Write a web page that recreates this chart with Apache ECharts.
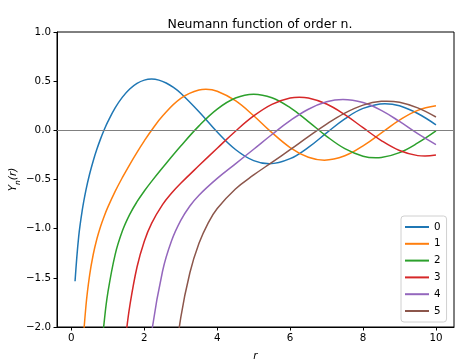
<!DOCTYPE html>
<html><head><meta charset="utf-8">
<script src="https://cdn.jsdelivr.net/npm/echarts@6/dist/echarts.min.js"></script>
<style>html,body{margin:0;padding:0;background:#fff}#c{width:474px;height:364px}</style>
</head><body><div id="c"></div>
<script>
const title = 'Neumann function of order n.';
const seriesNames = ['0','1','2','3','4','5'];
const xTicks = [0,2,4,6,8,10];

const x0 = [0.1,0.2,0.3,0.4,0.5,0.6,0.7,0.8,0.9,1.0,1.2,1.4,1.6,1.8,2.0,2.2,2.4,2.6,2.8,3.0,3.5,4.0,4.5,5.0,5.43,6.0,6.5,7.0,7.5,8.0,8.6,9.0,9.5,10.0];
const y0 = [-1.5342,-1.0811,-0.8073,-0.6060,-0.4445,-0.3085,-0.1907,-0.0868,0.0056,0.0883,0.2281,0.3379,0.4204,0.4774,0.5104,0.5208,0.5104,0.4813,0.4359,0.3769,
            0.1890,-0.0169,-0.1947,-0.3085,-0.3403,-0.2882,-0.1732,-0.0259,0.1173,0.2235,0.2715,0.2499,0.1712,0.0557];

const x1 = [0.2,0.3,0.4,0.5,0.6,0.7,0.8,0.9,1.0,1.2,1.4,1.6,1.8,2.0,2.2,2.5,3.0,3.5,3.69,4.0,4.5,5.0,5.43,6.0,6.5,6.94,7.5,8.0,8.6,9.0,9.5,10.0];
const y1 = [-3.3238,-2.2931,-1.7809,-1.4715,-1.2604,-1.1032,-0.9781,-0.8731,-0.7812,-0.6211,-0.4791,-0.3476,-0.2237,-0.1070,0.0015,0.1459,0.3247,
            0.4102,0.4168,0.3979,0.3010,0.1479,0.0000,-0.1750,-0.2741,-0.3033,-0.2591,-0.1581,0.0000,0.1043,0.2032,0.2490];

const x2 = [0.7,0.8,0.9,1.0,1.2,1.4,1.6,1.8,2.0,2.2,2.5,3.0,3.5,4.0,4.5,5.0,5.5,6.0,6.5,7.0,7.5,8.0,8.35,8.5,9.0,9.5,10.0];
const y2 = [-2.961,-2.359,-1.946,-1.6507,-1.2633,-1.0223,-0.8549,-0.7260,-0.6174,-0.5194,-0.3813,-0.1604,
            0.0454,0.2159,0.3285,0.3678,0.3308,0.2299,0.0889,-0.0605,-0.1864,-0.2630,-0.2793,-0.2764,-0.2267,-0.1284,-0.0059];

const x3 = [1.2,1.4,1.5,1.6,1.8,2.0,2.2,2.5,2.75,3.0,3.5,4.0,4.5,5.0,5.5,6.0,6.25,6.5,7.0,7.5,8.0,8.5,9.0,9.5,9.7,10.0];
const y3 = [-3.5899,-2.4418,-2.0733,-1.7897,-1.3896,-1.1278,-0.9459,-0.7560,-0.6381,-0.5385,
            -0.3583,-0.1820,-0.0090,0.1463,0.2644,0.3283,0.3366,0.3288,0.2681,0.1597,0.0266,-0.1039,-0.2051,-0.2573,-0.2620,-0.2513];

const x4 = [1.8,2.0,2.2,2.5,2.75,3.0,3.25,3.5,4.0,4.5,5.0,5.5,6.0,6.5,7.0,7.45,8.0,8.5,9.0,9.5,10.0];
const y4 = [-3.906,-2.766,-2.0603,-1.4331,-1.1215,-0.9166,-0.7701,
            -0.6596,-0.4889,-0.3405,-0.1921,-0.0424,0.0984,0.2146,0.2903,0.3145,0.2830,0.2031,0.0900,-0.0341,-0.1449];

const x5 = [2.5,2.75,3.0,3.25,3.5,3.75,4.0,4.5,5.0,5.5,6.0,6.5,7.0,7.5,8.0,8.5,8.65,9.0,9.5,10.0];
const y5 = [-3.8299,-2.62,-1.9058,-1.4478,-1.1494,-0.9428,
            -0.7958,-0.5963,-0.4537,-0.3261,-0.1971,-0.0647,0.0637,0.1755,0.2564,0.2951,0.2970,0.2851,0.2286,0.1354];

const xs = [x0,x1,x2,x3,x4,x5];
const ys = [y0,y1,y2,y3,y4,y5];
const colors = ['#1f77b4','#ff7f0e','#2ca02c','#d62728','#9467bd','#8c564b'];
const fontFamily = 'DejaVu Sans';
const fmt = v => (Math.abs(v) < 1e-9 ? 0 : v).toFixed(1).replace('-', '\u2212');

const series = seriesNames.map((n, i) => ({
  name: n, type: 'line', data: xs[i].map((x, j) => [x, ys[i][j]]),
  showSymbol: false, smooth: 0.4, clip: true,
  lineStyle: {width: 1.5, color: colors[i]}, itemStyle: {color: colors[i]}, z: 3
}));
series.unshift({
  name: 'zero', type: 'line', data: [], silent: true, z: 1,
  markLine: {silent: true, symbol: 'none', animation: false, label: {show: false},
    lineStyle: {color: '#808080', width: 1, type: 'solid'}, data: [{yAxis: 0}]}
});

const chart = echarts.init(document.getElementById('c'), null, {renderer: 'canvas'});
chart.setOption({
  animation: false,
  backgroundColor: '#fff',
  title: {text: title, left: 255, top: 13, textAlign: 'center',
    textStyle: {fontFamily, fontSize: 12.5, fontWeight: 'normal', color: '#000'}},
  grid: {left: 57, right: 20, top: 32, bottom: 37, show: true, borderColor: '#000', borderWidth: 1,
    backgroundColor: 'transparent', containLabel: false, outerBoundsMode: 'none'},
  legend: {
    data: seriesNames, orient: 'vertical', left: 401, top: 216,
    padding: [5, 6, 5, 4], itemGap: 4.8, itemWidth: 24, itemHeight: 2, itemTextGap: 9,
    icon: 'rect', backgroundColor: 'rgba(255,255,255,0.8)', borderColor: '#d0d0d0', borderWidth: 1, borderRadius: 3,
    textStyle: {fontFamily, fontSize: 10.3, color: '#000', lineHeight: 12}
  },
  xAxis: {
    type: 'value', min: -0.395, max: 10.495,
    name: 'r', nameLocation: 'middle', nameGap: 24, nameMoveOverlap: false,
    nameTextStyle: {fontFamily, fontSize: 10.5, fontStyle: 'italic', color: '#000'},
    axisLine: {show: true, onZero: false, lineStyle: {color: '#000', width: 1}},
    axisTick: {show: true, length: 3.5, lineStyle: {color: '#000'}, customValues: xTicks},
    axisLabel: {fontFamily, fontSize: 10.3, color: '#000', margin: 6, customValues: xTicks, formatter: v => String(v)},
    splitLine: {show: false}
  },
  yAxis: {
    type: 'value', min: -2, max: 1, interval: 0.5,
    name: '{a|Y}{b|n}{a|(r)}', nameLocation: 'middle', nameGap: 38, nameRotate: 90, nameMoveOverlap: false,
    nameTextStyle: {rich: {
      a: {fontFamily, fontSize: 10.5, fontStyle: 'italic', color: '#000'},
      b: {fontFamily, fontSize: 7.5, fontStyle: 'italic', color: '#000', verticalAlign: 'bottom', padding: [0,0,-3,0]}
    }},
    axisLine: {show: true, onZero: false, lineStyle: {color: '#000', width: 1}},
    axisTick: {show: true, length: 3.5, lineStyle: {color: '#000'}},
    axisLabel: {fontFamily, fontSize: 10.3, color: '#000', margin: 6, formatter: fmt},
    splitLine: {show: false}
  },
  series
});
</script></body></html>
